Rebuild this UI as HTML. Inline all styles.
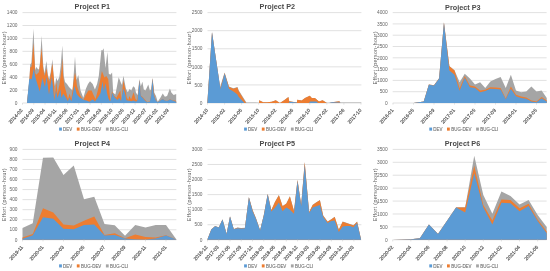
<!DOCTYPE html>
<html lang="en">
<head>
<meta charset="utf-8">
<title>Effort per project</title>
<style>
html,body{margin:0;padding:0;background:#fff;}
body{width:550px;height:271px;overflow:hidden;}
svg{display:block;}
text{font-family:"Liberation Sans",sans-serif;fill:#4a4a4a;}
.ttl{font-size:7.25px;font-weight:bold;}
.tick{font-size:4.9px;stroke:#4a4a4a;stroke-width:0.16;}
.ytick{font-size:4.8px;fill:#666;}
.leg{font-size:4.45px;fill:#6a6a6a;stroke:#6a6a6a;stroke-width:0.08;}
.ytitle{font-size:5.2px;letter-spacing:0.4px;fill:#5e5e5e;}
.grid{stroke:#d4d4d4;stroke-width:0.7;}
</style>
</head>
<body>
<svg width="550" height="271" viewBox="0 0 550 271">
<rect width="550" height="271" fill="#fff"/>
<g>
<text class="ttl" x="92.3" y="9.45" text-anchor="middle">Project P1</text>
<line x1="22.5" x2="176.4" y1="103" y2="103" class="grid"/>
<text class="ytick" x="17.5" y="104.72" text-anchor="end">0</text>
<line x1="22.5" x2="176.4" y1="90.09" y2="90.09" class="grid"/>
<text class="ytick" x="17.5" y="91.81" text-anchor="end">200</text>
<line x1="22.5" x2="176.4" y1="77.17" y2="77.17" class="grid"/>
<text class="ytick" x="17.5" y="78.89" text-anchor="end">400</text>
<line x1="22.5" x2="176.4" y1="64.26" y2="64.26" class="grid"/>
<text class="ytick" x="17.5" y="65.98" text-anchor="end">600</text>
<line x1="22.5" x2="176.4" y1="51.34" y2="51.34" class="grid"/>
<text class="ytick" x="17.5" y="53.06" text-anchor="end">800</text>
<line x1="22.5" x2="176.4" y1="38.43" y2="38.43" class="grid"/>
<text class="ytick" x="17.5" y="40.15" text-anchor="end">1000</text>
<line x1="22.5" x2="176.4" y1="25.51" y2="25.51" class="grid"/>
<text class="ytick" x="17.5" y="27.23" text-anchor="end">1200</text>
<line x1="22.5" x2="176.4" y1="12.6" y2="12.6" class="grid"/>
<text class="ytick" x="17.5" y="14.32" text-anchor="end">1400</text>
<text class="ytitle" text-anchor="middle" transform="translate(6.4,57.8) rotate(-90)">Effort (person-hour)</text>
<polygon fill="#a5a5a5" points="27,103 29.4,80 30.2,64.5 31.4,63 33.5,28.7 35.2,70 36.2,67 37.9,68.9 39,69.6 39.9,63 41.6,35.7 43.3,66 44.4,73.5 46.4,61 47.9,74.8 49.2,79 50.7,72 52.4,59.3 54,80 54.9,86 56.2,77.7 57.6,81 59.3,77 60.7,66 62.3,45.4 63.8,76 65,82 67,84 69,87 71,89 72.5,90.6 73.6,76 75,56.5 76.6,80 78.3,75.1 80.5,90.6 83.3,97.8 86,88.4 88,84 90,81.2 92.7,84 94.9,89.5 97.1,84 98.8,76 101.4,49.9 102.5,50.6 103.6,48.2 105.5,68.1 107.4,52.1 108.8,73.7 110.4,74.8 112.1,72.6 113.2,92.8 115.4,94.5 118.7,77.3 121,82.9 122,85 123.4,75.7 125.9,88.4 127.8,92.3 129.6,89 131.3,90.6 133.2,86.2 134.9,87.8 136,92.8 137.7,95 139.4,79 140.8,86.2 142.4,81.8 143.8,89.5 145.5,90.6 148.3,84.5 149.9,90.6 151,89.5 152.5,77.9 154.3,92.8 156,96.1 157.7,101.7 160.4,97.8 162.7,93.4 164.9,96.7 167.1,96.1 169.9,88.4 171.5,92.8 173.7,95 176.2,94 176.2,103"/>
<polygon fill="#ed7d31" points="27,103 29.4,80 30.2,67.5 31.6,66.5 33.4,43 35.2,73 36.1,74.8 37.9,73.3 39,72 39.9,66 41.5,48 43.2,69 44.6,76 46.5,68.5 48,78 49.3,82 50.7,75 52.3,63.5 54,80 54.7,97.8 56.3,82 57.6,94 59.5,84 61.5,70 62.3,58.2 63.2,76 64.4,85.5 66.6,93.5 68,99.6 69.6,93.5 71.2,99 72.5,90.6 73.8,80 75,72.6 76.1,78.4 77,86 77.8,88.4 80.5,96.1 83.3,100 85.5,95.6 88.3,90.6 91.6,90.6 93.3,94.5 95.5,98.9 98.3,88.4 100.2,80 101.9,71 104.4,77.6 106.3,76 108.2,79 109.6,93 110.3,100.8 112.1,91.5 114.3,96.1 116.5,97.8 119.3,92.3 120.4,90.6 121.3,100.6 123.4,80.6 125.4,89.5 126.7,97.3 128.3,100 129.4,96.1 131.1,99.5 133.6,92.3 135.5,98.9 137.2,100.6 138.3,92 139.4,80 140.8,95.5 142.7,97 144.4,98.9 147.1,102 149.9,101.5 151.2,94.5 152.5,78.2 154.3,95 155.5,99.5 157.7,102.2 160.4,100.4 162.7,98.7 164.9,100.4 167.1,101 169.9,99.3 172.6,100.4 175.4,100.6 176.2,101.2 176.2,103"/>
<polygon fill="#5b9bd5" points="27,103 29.1,80 29.8,78.5 31.6,79.5 33.9,68.1 35,76 37.7,85 39.8,91.5 42.4,78 44.9,87 46.6,77 49,94.5 51.9,76.6 54.3,100.6 56,90.6 57.6,97.8 60.4,89.5 61.5,97.8 63.3,93.5 66,98 67.8,101 69.5,97.5 71.3,101.3 73.6,90 74.5,86 75.2,88.4 76.7,94 79.4,97.3 83.9,100 86.6,100.5 89.4,101.7 92.7,99.3 95,101.5 97.1,98.5 98.8,96 100.6,93 102.5,81.3 103.9,91 105.5,83.3 107,93 108.5,98.5 110,101.2 110.8,100 112.1,92.8 114.9,97.8 117.6,100 119.3,97.8 121,101 123.4,88.4 124.8,92.8 126.5,100.3 129.3,100.8 131.5,101.3 133.1,100.4 135,101 136,101.7 137.7,100 139.4,80.6 140.8,96.1 142.7,97.8 144.9,100.6 147.1,102.2 149.9,101.7 151.2,95 152.5,78.4 153.8,95 155.5,100 157.7,102.2 160.4,100.6 162.7,98.9 164.9,100.6 167.1,101.1 169.9,99.5 172.6,100.6 176.2,101.7 176.2,103"/>
<line x1="22.5" x2="22.5" y1="103" y2="104.6" class="grid"/>
<text class="tick" text-anchor="end" transform="translate(22.8,110.6) rotate(-48)">2014-02</text>
<line x1="33.76" x2="33.76" y1="103" y2="104.6" class="grid"/>
<text class="tick" text-anchor="end" transform="translate(34.06,110.6) rotate(-48)">2014-09</text>
<line x1="45.02" x2="45.02" y1="103" y2="104.6" class="grid"/>
<text class="tick" text-anchor="end" transform="translate(45.32,110.6) rotate(-48)">2015-04</text>
<line x1="56.28" x2="56.28" y1="103" y2="104.6" class="grid"/>
<text class="tick" text-anchor="end" transform="translate(56.58,110.6) rotate(-48)">2015-11</text>
<line x1="67.54" x2="67.54" y1="103" y2="104.6" class="grid"/>
<text class="tick" text-anchor="end" transform="translate(67.84,110.6) rotate(-48)">2016-06</text>
<line x1="78.8" x2="78.8" y1="103" y2="104.6" class="grid"/>
<text class="tick" text-anchor="end" transform="translate(79.1,110.6) rotate(-48)">2017-01</text>
<line x1="90.06" x2="90.06" y1="103" y2="104.6" class="grid"/>
<text class="tick" text-anchor="end" transform="translate(90.36,110.6) rotate(-48)">2017-08</text>
<line x1="101.32" x2="101.32" y1="103" y2="104.6" class="grid"/>
<text class="tick" text-anchor="end" transform="translate(101.62,110.6) rotate(-48)">2018-03</text>
<line x1="112.58" x2="112.58" y1="103" y2="104.6" class="grid"/>
<text class="tick" text-anchor="end" transform="translate(112.88,110.6) rotate(-48)">2018-10</text>
<line x1="123.84" x2="123.84" y1="103" y2="104.6" class="grid"/>
<text class="tick" text-anchor="end" transform="translate(124.14,110.6) rotate(-48)">2019-05</text>
<line x1="135.1" x2="135.1" y1="103" y2="104.6" class="grid"/>
<text class="tick" text-anchor="end" transform="translate(135.4,110.6) rotate(-48)">2019-12</text>
<line x1="146.36" x2="146.36" y1="103" y2="104.6" class="grid"/>
<text class="tick" text-anchor="end" transform="translate(146.66,110.6) rotate(-48)">2020-07</text>
<line x1="157.62" x2="157.62" y1="103" y2="104.6" class="grid"/>
<text class="tick" text-anchor="end" transform="translate(157.92,110.6) rotate(-48)">2021-02</text>
<line x1="168.88" x2="168.88" y1="103" y2="104.6" class="grid"/>
<text class="tick" text-anchor="end" transform="translate(169.18,110.6) rotate(-48)">2021-09</text>
<rect x="59.1" y="127.55" width="2.8" height="3.1" fill="#5b9bd5"/>
<text class="leg" x="63.1" y="130.85">DEV</text>
<rect x="76.8" y="127.55" width="2.8" height="3.1" fill="#ed7d31"/>
<text class="leg" x="81.1" y="130.85">BUG-DEV</text>
<rect x="105.9" y="127.55" width="2.8" height="3.1" fill="#a5a5a5"/>
<text class="leg" x="110.1" y="130.85">BUG-CLI</text>
</g>
<g>
<text class="ttl" x="277.3" y="9.45" text-anchor="middle">Project P2</text>
<line x1="207.5" x2="361.4" y1="103" y2="103" class="grid"/>
<text class="ytick" x="202.5" y="104.72" text-anchor="end">0</text>
<line x1="207.5" x2="361.4" y1="84.92" y2="84.92" class="grid"/>
<text class="ytick" x="202.5" y="86.64" text-anchor="end">500</text>
<line x1="207.5" x2="361.4" y1="66.84" y2="66.84" class="grid"/>
<text class="ytick" x="202.5" y="68.56" text-anchor="end">1000</text>
<line x1="207.5" x2="361.4" y1="48.76" y2="48.76" class="grid"/>
<text class="ytick" x="202.5" y="50.48" text-anchor="end">1500</text>
<line x1="207.5" x2="361.4" y1="30.68" y2="30.68" class="grid"/>
<text class="ytick" x="202.5" y="32.4" text-anchor="end">2000</text>
<line x1="207.5" x2="361.4" y1="12.6" y2="12.6" class="grid"/>
<text class="ytick" x="202.5" y="14.32" text-anchor="end">2500</text>
<text class="ytitle" text-anchor="middle" transform="translate(191.4,57.8) rotate(-90)">Effort (person-hour)</text>
<polygon fill="#a5a5a5" points="207.3,103 212,32.1 216.1,59.7 220,87.6 224.6,72.5 229,86.4 233.4,88.2 237.5,87 238.8,90.5 246.4,102.5 255,102.6 259,102.8 259.2,100.2 263.2,102.2 267.4,102.3 271.7,101.8 275.8,100.2 279.9,102.9 284.5,100 288.4,96.9 289.2,101.2 296.8,102.4 297.3,99.7 301.7,100.5 305,98 309.8,95.8 311.8,98 314.9,98 319,101.4 322.6,100.2 326.8,102.8 329.6,102.8 334,102 339.4,101.3 340.3,102.6 361.3,102.5 361.3,103"/>
<polygon fill="#ed7d31" points="207.4,103 212,32.3 216.1,60 220.3,88.2 224.6,73 229,86.9 233.4,88.7 237.4,87.5 238.6,90.9 246,103 259,103 259.2,100.2 263.2,102.2 267.4,102.3 271.7,101.8 275.8,100.2 279.9,102.9 284.5,100 288.4,96.9 289.2,101.2 296.8,102.4 297.3,99.7 301.7,100.5 305,98 309.8,95.8 311.8,98 314.9,98 319,101.4 322.6,100.2 326.8,103 329.6,103 334,102 339.4,101.3 340.3,103"/>
<polygon fill="#5b9bd5" points="207.4,103 212,32.3 216.1,60 220.5,88.9 224.6,73.5 229,88.7 233.4,91.6 237.2,94.3 238.6,96.8 244.5,103 289,103 289.3,101.8 296.8,102.6 297,103 309,103 310.2,101.4 316.5,101.6 318,103 329,103 332,102.2 340,102.4 340.3,103"/>
<line x1="207.5" x2="207.5" y1="103" y2="104.6" class="grid"/>
<text class="tick" text-anchor="end" transform="translate(208.3,110.6) rotate(-48)">2014-10</text>
<line x1="224.55" x2="224.55" y1="103" y2="104.6" class="grid"/>
<text class="tick" text-anchor="end" transform="translate(225.35,110.6) rotate(-48)">2015-02</text>
<line x1="241.6" x2="241.6" y1="103" y2="104.6" class="grid"/>
<text class="tick" text-anchor="end" transform="translate(242.4,110.6) rotate(-48)">2015-06</text>
<line x1="258.65" x2="258.65" y1="103" y2="104.6" class="grid"/>
<text class="tick" text-anchor="end" transform="translate(259.45,110.6) rotate(-48)">2015-10</text>
<line x1="275.7" x2="275.7" y1="103" y2="104.6" class="grid"/>
<text class="tick" text-anchor="end" transform="translate(276.5,110.6) rotate(-48)">2016-02</text>
<line x1="292.75" x2="292.75" y1="103" y2="104.6" class="grid"/>
<text class="tick" text-anchor="end" transform="translate(293.55,110.6) rotate(-48)">2016-06</text>
<line x1="309.8" x2="309.8" y1="103" y2="104.6" class="grid"/>
<text class="tick" text-anchor="end" transform="translate(310.6,110.6) rotate(-48)">2016-10</text>
<line x1="326.85" x2="326.85" y1="103" y2="104.6" class="grid"/>
<text class="tick" text-anchor="end" transform="translate(327.65,110.6) rotate(-48)">2017-02</text>
<line x1="343.9" x2="343.9" y1="103" y2="104.6" class="grid"/>
<text class="tick" text-anchor="end" transform="translate(344.7,110.6) rotate(-48)">2017-06</text>
<line x1="360.95" x2="360.95" y1="103" y2="104.6" class="grid"/>
<text class="tick" text-anchor="end" transform="translate(361.75,110.6) rotate(-48)">2017-10</text>
<rect x="244.1" y="127.55" width="2.8" height="3.1" fill="#5b9bd5"/>
<text class="leg" x="248.1" y="130.85">DEV</text>
<rect x="261.8" y="127.55" width="2.8" height="3.1" fill="#ed7d31"/>
<text class="leg" x="266.1" y="130.85">BUG-DEV</text>
<rect x="290.9" y="127.55" width="2.8" height="3.1" fill="#a5a5a5"/>
<text class="leg" x="295.1" y="130.85">BUG-CLI</text>
</g>
<g>
<text class="ttl" x="462.8" y="9.65" text-anchor="middle">Project P3</text>
<line x1="392.7" x2="546.6" y1="103" y2="103" class="grid"/>
<text class="ytick" x="387.7" y="104.72" text-anchor="end">0</text>
<line x1="392.7" x2="546.6" y1="91.7" y2="91.7" class="grid"/>
<text class="ytick" x="387.7" y="93.42" text-anchor="end">500</text>
<line x1="392.7" x2="546.6" y1="80.4" y2="80.4" class="grid"/>
<text class="ytick" x="387.7" y="82.12" text-anchor="end">1000</text>
<line x1="392.7" x2="546.6" y1="69.1" y2="69.1" class="grid"/>
<text class="ytick" x="387.7" y="70.82" text-anchor="end">1500</text>
<line x1="392.7" x2="546.6" y1="57.8" y2="57.8" class="grid"/>
<text class="ytick" x="387.7" y="59.52" text-anchor="end">2000</text>
<line x1="392.7" x2="546.6" y1="46.5" y2="46.5" class="grid"/>
<text class="ytick" x="387.7" y="48.22" text-anchor="end">2500</text>
<line x1="392.7" x2="546.6" y1="35.2" y2="35.2" class="grid"/>
<text class="ytick" x="387.7" y="36.92" text-anchor="end">3000</text>
<line x1="392.7" x2="546.6" y1="23.9" y2="23.9" class="grid"/>
<text class="ytick" x="387.7" y="25.62" text-anchor="end">3500</text>
<line x1="392.7" x2="546.6" y1="12.6" y2="12.6" class="grid"/>
<text class="ytick" x="387.7" y="14.32" text-anchor="end">4000</text>
<text class="ytitle" text-anchor="middle" transform="translate(376.6,57.8) rotate(-90)">Effort (person-hour)</text>
<polygon fill="#a5a5a5" points="413.5,103 418.62,102.3 423.75,101.4 428.88,84.5 434,85.2 439.12,78.3 443.95,22.5 449.38,65.9 454.5,70.2 459.62,82.3 464.75,73.8 469.88,78.6 475,84.4 480.12,82.3 485.25,88 490.38,81.4 495.5,78.9 500.62,77 505.75,88 510.88,74.8 516,90.6 521.12,92.2 526.25,91.4 531.38,86.4 536.5,91.4 541.62,90.6 546.75,98 546.75,103"/>
<polygon fill="#ed7d31" points="413.5,103 418.62,102.3 423.75,101.4 428.88,84.5 434,85.2 439.12,78.3 443.95,22.6 449.38,66.2 454.5,70.5 459.62,88.3 464.75,76 469.88,85.4 475,86.4 480.12,90.6 485.25,89.7 490.38,87.2 495.5,87.6 500.62,88 505.75,98.5 510.88,86.4 516,94.7 521.12,96.4 526.25,97.5 531.38,100.5 536.5,101.4 541.62,96.9 546.75,100.5 546.75,103"/>
<polygon fill="#5b9bd5" points="413.5,103 418.62,102.3 423.75,101.4 428.88,84.7 434,85.6 439.12,78.6 443.95,22.9 449.38,70.4 454.5,74.8 459.62,90.8 464.75,77.8 469.88,87.2 475,87.9 480.12,92.3 485.25,90.9 490.38,88.8 495.5,89.1 500.62,89.6 505.75,99.3 510.88,88.8 516,96.3 521.12,98 526.25,98.7 531.38,101.5 536.5,102.2 541.62,98.3 546.75,101.5 546.75,103"/>
<line x1="393" x2="393" y1="103" y2="104.6" class="grid"/>
<text class="tick" text-anchor="end" transform="translate(393.7,110.6) rotate(-48)">2016-01</text>
<line x1="413.5" x2="413.5" y1="103" y2="104.6" class="grid"/>
<text class="tick" text-anchor="end" transform="translate(414.2,110.6) rotate(-48)">2016-05</text>
<line x1="434" x2="434" y1="103" y2="104.6" class="grid"/>
<text class="tick" text-anchor="end" transform="translate(434.7,110.6) rotate(-48)">2016-09</text>
<line x1="454.5" x2="454.5" y1="103" y2="104.6" class="grid"/>
<text class="tick" text-anchor="end" transform="translate(455.2,110.6) rotate(-48)">2017-01</text>
<line x1="475" x2="475" y1="103" y2="104.6" class="grid"/>
<text class="tick" text-anchor="end" transform="translate(475.7,110.6) rotate(-48)">2017-05</text>
<line x1="495.5" x2="495.5" y1="103" y2="104.6" class="grid"/>
<text class="tick" text-anchor="end" transform="translate(496.2,110.6) rotate(-48)">2017-09</text>
<line x1="516" x2="516" y1="103" y2="104.6" class="grid"/>
<text class="tick" text-anchor="end" transform="translate(516.7,110.6) rotate(-48)">2018-01</text>
<line x1="536.5" x2="536.5" y1="103" y2="104.6" class="grid"/>
<text class="tick" text-anchor="end" transform="translate(537.2,110.6) rotate(-48)">2018-05</text>
<rect x="429.3" y="127.55" width="2.8" height="3.1" fill="#5b9bd5"/>
<text class="leg" x="433.3" y="130.85">DEV</text>
<rect x="447" y="127.55" width="2.8" height="3.1" fill="#ed7d31"/>
<text class="leg" x="451.3" y="130.85">BUG-DEV</text>
<rect x="476.1" y="127.55" width="2.8" height="3.1" fill="#a5a5a5"/>
<text class="leg" x="480.3" y="130.85">BUG-CLI</text>
</g>
<g>
<text class="ttl" x="92.3" y="146.4" text-anchor="middle">Project P4</text>
<line x1="22.5" x2="176.4" y1="239.8" y2="239.8" class="grid"/>
<text class="ytick" x="17.5" y="241.52" text-anchor="end">0</text>
<line x1="22.5" x2="176.4" y1="229.76" y2="229.76" class="grid"/>
<text class="ytick" x="17.5" y="231.48" text-anchor="end">100</text>
<line x1="22.5" x2="176.4" y1="219.71" y2="219.71" class="grid"/>
<text class="ytick" x="17.5" y="221.43" text-anchor="end">200</text>
<line x1="22.5" x2="176.4" y1="209.67" y2="209.67" class="grid"/>
<text class="ytick" x="17.5" y="211.39" text-anchor="end">300</text>
<line x1="22.5" x2="176.4" y1="199.62" y2="199.62" class="grid"/>
<text class="ytick" x="17.5" y="201.34" text-anchor="end">400</text>
<line x1="22.5" x2="176.4" y1="189.58" y2="189.58" class="grid"/>
<text class="ytick" x="17.5" y="191.3" text-anchor="end">500</text>
<line x1="22.5" x2="176.4" y1="179.53" y2="179.53" class="grid"/>
<text class="ytick" x="17.5" y="181.25" text-anchor="end">600</text>
<line x1="22.5" x2="176.4" y1="169.49" y2="169.49" class="grid"/>
<text class="ytick" x="17.5" y="171.21" text-anchor="end">700</text>
<line x1="22.5" x2="176.4" y1="159.44" y2="159.44" class="grid"/>
<text class="ytick" x="17.5" y="161.16" text-anchor="end">800</text>
<line x1="22.5" x2="176.4" y1="149.4" y2="149.4" class="grid"/>
<text class="ytick" x="17.5" y="151.12" text-anchor="end">900</text>
<text class="ytitle" text-anchor="middle" transform="translate(6.4,194.6) rotate(-90)">Effort (person-hour)</text>
<polygon fill="#a5a5a5" points="22.5,239.8 22.5,228 32.75,223.2 43,157.8 53.25,157.4 63.5,175.1 73.75,165.5 84,199.2 94.25,196.8 104.5,224.1 114.75,225.2 125,235.7 135.25,224.9 145.5,227.4 155.75,224.9 166,224.9 176.25,239.3 176.25,239.8"/>
<polygon fill="#ed7d31" points="22.5,239.8 22.5,237.6 32.75,234 43,208.3 53.25,212.4 63.5,224.4 73.75,225.6 84,220.8 94.25,216.5 104.5,234.9 114.75,233.2 125,238.2 135.25,234.6 145.5,236.9 155.75,237.4 166,235.2 176.25,239.5 176.25,239.8"/>
<polygon fill="#5b9bd5" points="22.5,239.8 22.5,238.8 32.75,235.2 43,217.2 53.25,218.8 63.5,228.7 73.75,229.2 84,225.1 94.25,224.4 104.5,235.4 114.75,234.9 125,238.5 135.25,239.2 145.5,239.5 155.75,238.5 166,235.4 176.25,239.6 176.25,239.8"/>
<line x1="22.5" x2="22.5" y1="239.8" y2="241.4" class="grid"/>
<text class="tick" text-anchor="end" transform="translate(23.3,247.4) rotate(-48)">2019-11</text>
<line x1="43" x2="43" y1="239.8" y2="241.4" class="grid"/>
<text class="tick" text-anchor="end" transform="translate(43.8,247.4) rotate(-48)">2020-01</text>
<line x1="63.5" x2="63.5" y1="239.8" y2="241.4" class="grid"/>
<text class="tick" text-anchor="end" transform="translate(64.3,247.4) rotate(-48)">2020-03</text>
<line x1="84" x2="84" y1="239.8" y2="241.4" class="grid"/>
<text class="tick" text-anchor="end" transform="translate(84.8,247.4) rotate(-48)">2020-05</text>
<line x1="104.5" x2="104.5" y1="239.8" y2="241.4" class="grid"/>
<text class="tick" text-anchor="end" transform="translate(105.3,247.4) rotate(-48)">2020-07</text>
<line x1="125" x2="125" y1="239.8" y2="241.4" class="grid"/>
<text class="tick" text-anchor="end" transform="translate(125.8,247.4) rotate(-48)">2020-09</text>
<line x1="145.5" x2="145.5" y1="239.8" y2="241.4" class="grid"/>
<text class="tick" text-anchor="end" transform="translate(146.3,247.4) rotate(-48)">2020-11</text>
<line x1="166" x2="166" y1="239.8" y2="241.4" class="grid"/>
<text class="tick" text-anchor="end" transform="translate(166.8,247.4) rotate(-48)">2021-01</text>
<rect x="59.1" y="264.35" width="2.8" height="3.1" fill="#5b9bd5"/>
<text class="leg" x="63.1" y="267.65">DEV</text>
<rect x="76.8" y="264.35" width="2.8" height="3.1" fill="#ed7d31"/>
<text class="leg" x="81.1" y="267.65">BUG-DEV</text>
<rect x="105.9" y="264.35" width="2.8" height="3.1" fill="#a5a5a5"/>
<text class="leg" x="110.1" y="267.65">BUG-CLI</text>
</g>
<g>
<text class="ttl" x="277.3" y="146.4" text-anchor="middle">Project P5</text>
<line x1="207.5" x2="361.4" y1="239.8" y2="239.8" class="grid"/>
<text class="ytick" x="202.5" y="241.52" text-anchor="end">0</text>
<line x1="207.5" x2="361.4" y1="224.73" y2="224.73" class="grid"/>
<text class="ytick" x="202.5" y="226.45" text-anchor="end">500</text>
<line x1="207.5" x2="361.4" y1="209.67" y2="209.67" class="grid"/>
<text class="ytick" x="202.5" y="211.39" text-anchor="end">1000</text>
<line x1="207.5" x2="361.4" y1="194.6" y2="194.6" class="grid"/>
<text class="ytick" x="202.5" y="196.32" text-anchor="end">1500</text>
<line x1="207.5" x2="361.4" y1="179.53" y2="179.53" class="grid"/>
<text class="ytick" x="202.5" y="181.25" text-anchor="end">2000</text>
<line x1="207.5" x2="361.4" y1="164.47" y2="164.47" class="grid"/>
<text class="ytick" x="202.5" y="166.19" text-anchor="end">2500</text>
<line x1="207.5" x2="361.4" y1="149.4" y2="149.4" class="grid"/>
<text class="ytick" x="202.5" y="151.12" text-anchor="end">3000</text>
<text class="ytitle" text-anchor="middle" transform="translate(191.4,194.6) rotate(-90)">Effort (person-hour)</text>
<polygon fill="#a5a5a5" points="207.3,239.8 211.3,229.25 215.1,226.05 218.8,227.25 222.5,219.25 226.6,233.75 230,216.35 233.8,228.95 237.5,227.55 241.2,227.95 244.9,227.75 248.9,197.05 252.7,210.15 256,218.15 260.1,230.15 263.8,215.05 267.7,193.85 271.3,209.95 275,201.75 278.9,195.05 282.6,206.05 286.3,203.55 289.9,196.35 294,210.75 297.5,179.65 301.2,204.75 304.7,161.95 309.1,211.95 312.7,204.75 316.3,202.35 319.9,199.95 323.2,215.55 327.6,221.55 331.2,219.15 334.7,216.75 338.8,229.45 342.7,221.55 346.3,222.75 349.9,223.95 353.5,225.15 357.1,221.55 361.1,239.8"/>
<polygon fill="#ed7d31" points="207.3,239.8 211.3,229.5 215.1,226.3 218.8,227.5 222.5,219.5 226.6,234 230,216.6 233.8,229.2 237.5,227.8 241.2,228.2 244.9,228 248.9,197.3 252.7,210.4 256,218.4 260.1,230.4 263.8,215.3 267.7,194.1 271.3,210.2 275,202 278.9,195.3 282.6,206.3 286.3,203.8 289.9,196.6 294,211 297.5,179.9 301.2,205 304.7,162.2 309.1,212.2 312.7,205 316.3,202.6 319.9,200.2 323.2,215.8 327.6,221.8 331.2,219.4 334.7,217 338.8,229.7 342.7,221.8 346.3,223 349.9,224.2 353.5,225.4 357.1,221.8 361.1,239.8"/>
<polygon fill="#5b9bd5" points="207.3,239.8 211.3,229.5 215.1,226.3 218.8,227.5 222.5,219.5 226.6,234 230,216.6 233.8,229.2 237.5,228.3 241.2,228.6 244.9,228.2 248.9,197.5 252.7,211.4 256,219 260.1,230.6 263.8,215.5 267.7,194.2 271.3,211.5 275,207.8 278.9,202.4 282.6,211.3 286.3,207.4 289.9,209.8 294,213.8 297.5,181 301.2,206 304.7,165 309.1,213 312.7,207.4 316.3,206.2 319.9,205 323.2,217 327.6,223 331.2,221 334.7,220.6 338.8,232 342.7,226.6 346.3,225.9 349.9,226.1 353.5,227.3 357.1,223 361.1,239.8"/>
<line x1="207.5" x2="207.5" y1="239.8" y2="241.4" class="grid"/>
<text class="tick" text-anchor="end" transform="translate(207.8,247.4) rotate(-48)">2016-12</text>
<line x1="218.76" x2="218.76" y1="239.8" y2="241.4" class="grid"/>
<text class="tick" text-anchor="end" transform="translate(219.06,247.4) rotate(-48)">2017-03</text>
<line x1="230.02" x2="230.02" y1="239.8" y2="241.4" class="grid"/>
<text class="tick" text-anchor="end" transform="translate(230.32,247.4) rotate(-48)">2017-06</text>
<line x1="241.28" x2="241.28" y1="239.8" y2="241.4" class="grid"/>
<text class="tick" text-anchor="end" transform="translate(241.58,247.4) rotate(-48)">2017-09</text>
<line x1="252.54" x2="252.54" y1="239.8" y2="241.4" class="grid"/>
<text class="tick" text-anchor="end" transform="translate(252.84,247.4) rotate(-48)">2017-12</text>
<line x1="263.8" x2="263.8" y1="239.8" y2="241.4" class="grid"/>
<text class="tick" text-anchor="end" transform="translate(264.1,247.4) rotate(-48)">2018-03</text>
<line x1="275.06" x2="275.06" y1="239.8" y2="241.4" class="grid"/>
<text class="tick" text-anchor="end" transform="translate(275.36,247.4) rotate(-48)">2018-06</text>
<line x1="286.32" x2="286.32" y1="239.8" y2="241.4" class="grid"/>
<text class="tick" text-anchor="end" transform="translate(286.62,247.4) rotate(-48)">2018-09</text>
<line x1="297.58" x2="297.58" y1="239.8" y2="241.4" class="grid"/>
<text class="tick" text-anchor="end" transform="translate(297.88,247.4) rotate(-48)">2018-12</text>
<line x1="308.84" x2="308.84" y1="239.8" y2="241.4" class="grid"/>
<text class="tick" text-anchor="end" transform="translate(309.14,247.4) rotate(-48)">2019-03</text>
<line x1="320.1" x2="320.1" y1="239.8" y2="241.4" class="grid"/>
<text class="tick" text-anchor="end" transform="translate(320.4,247.4) rotate(-48)">2019-06</text>
<line x1="331.36" x2="331.36" y1="239.8" y2="241.4" class="grid"/>
<text class="tick" text-anchor="end" transform="translate(331.66,247.4) rotate(-48)">2019-09</text>
<line x1="342.62" x2="342.62" y1="239.8" y2="241.4" class="grid"/>
<text class="tick" text-anchor="end" transform="translate(342.92,247.4) rotate(-48)">2019-12</text>
<line x1="353.88" x2="353.88" y1="239.8" y2="241.4" class="grid"/>
<text class="tick" text-anchor="end" transform="translate(354.18,247.4) rotate(-48)">2020-03</text>
<rect x="244.1" y="264.35" width="2.8" height="3.1" fill="#5b9bd5"/>
<text class="leg" x="248.1" y="267.65">DEV</text>
<rect x="261.8" y="264.35" width="2.8" height="3.1" fill="#ed7d31"/>
<text class="leg" x="266.1" y="267.65">BUG-DEV</text>
<rect x="290.9" y="264.35" width="2.8" height="3.1" fill="#a5a5a5"/>
<text class="leg" x="295.1" y="267.65">BUG-CLI</text>
</g>
<g>
<text class="ttl" x="462.5" y="146.4" text-anchor="middle">Project P6</text>
<line x1="392.7" x2="546.6" y1="239.8" y2="239.8" class="grid"/>
<text class="ytick" x="387.7" y="241.52" text-anchor="end">0</text>
<line x1="392.7" x2="546.6" y1="226.89" y2="226.89" class="grid"/>
<text class="ytick" x="387.7" y="228.61" text-anchor="end">500</text>
<line x1="392.7" x2="546.6" y1="213.97" y2="213.97" class="grid"/>
<text class="ytick" x="387.7" y="215.69" text-anchor="end">1000</text>
<line x1="392.7" x2="546.6" y1="201.06" y2="201.06" class="grid"/>
<text class="ytick" x="387.7" y="202.78" text-anchor="end">1500</text>
<line x1="392.7" x2="546.6" y1="188.14" y2="188.14" class="grid"/>
<text class="ytick" x="387.7" y="189.86" text-anchor="end">2000</text>
<line x1="392.7" x2="546.6" y1="175.23" y2="175.23" class="grid"/>
<text class="ytick" x="387.7" y="176.95" text-anchor="end">2500</text>
<line x1="392.7" x2="546.6" y1="162.31" y2="162.31" class="grid"/>
<text class="ytick" x="387.7" y="164.03" text-anchor="end">3000</text>
<line x1="392.7" x2="546.6" y1="149.4" y2="149.4" class="grid"/>
<text class="ytick" x="387.7" y="151.12" text-anchor="end">3500</text>
<text class="ytitle" text-anchor="middle" transform="translate(376.6,194.6) rotate(-90)">Effort (person-hour)</text>
<polygon fill="#a5a5a5" points="392.7,239.8 392.7,239.8 401.76,239.6 410.82,239.2 419.88,238.3 428.94,224.4 438,234 447.06,220.8 456.12,207.3 465.18,207.2 474.24,155.8 483.3,195 492.36,213.8 501.42,191.5 510.48,196.1 519.54,204.5 528.6,200.1 537.66,214.9 546.72,227.1 546.72,239.8"/>
<polygon fill="#ed7d31" points="392.7,239.8 392.7,239.8 401.76,239.6 410.82,239.2 419.88,238.3 428.94,224.4 438,234 447.06,220.8 456.12,207.4 465.18,207.4 474.24,165.8 483.3,205 492.36,220.5 501.42,199.4 510.48,200.1 519.54,208.3 528.6,203.8 537.66,219.4 546.72,231.6 546.72,239.8"/>
<polygon fill="#5b9bd5" points="392.7,239.8 392.7,239.8 401.76,239.6 410.82,239.2 419.88,238.3 428.94,224.4 438,234 447.06,220.8 456.12,207.6 465.18,212.6 474.24,173.3 483.3,207.2 492.36,224.5 501.42,202.7 510.48,203.2 519.54,211.2 528.6,206.1 537.66,221.1 546.72,233.3 546.72,239.8"/>
<line x1="392.7" x2="392.7" y1="239.8" y2="241.4" class="grid"/>
<text class="tick" text-anchor="end" transform="translate(393.5,247.4) rotate(-48)">2020-02</text>
<line x1="410.82" x2="410.82" y1="239.8" y2="241.4" class="grid"/>
<text class="tick" text-anchor="end" transform="translate(411.62,247.4) rotate(-48)">2020-04</text>
<line x1="428.94" x2="428.94" y1="239.8" y2="241.4" class="grid"/>
<text class="tick" text-anchor="end" transform="translate(429.74,247.4) rotate(-48)">2020-06</text>
<line x1="447.06" x2="447.06" y1="239.8" y2="241.4" class="grid"/>
<text class="tick" text-anchor="end" transform="translate(447.86,247.4) rotate(-48)">2020-08</text>
<line x1="465.18" x2="465.18" y1="239.8" y2="241.4" class="grid"/>
<text class="tick" text-anchor="end" transform="translate(465.98,247.4) rotate(-48)">2020-10</text>
<line x1="483.3" x2="483.3" y1="239.8" y2="241.4" class="grid"/>
<text class="tick" text-anchor="end" transform="translate(484.1,247.4) rotate(-48)">2020-12</text>
<line x1="501.42" x2="501.42" y1="239.8" y2="241.4" class="grid"/>
<text class="tick" text-anchor="end" transform="translate(502.22,247.4) rotate(-48)">2021-02</text>
<line x1="519.54" x2="519.54" y1="239.8" y2="241.4" class="grid"/>
<text class="tick" text-anchor="end" transform="translate(520.34,247.4) rotate(-48)">2021-04</text>
<line x1="537.66" x2="537.66" y1="239.8" y2="241.4" class="grid"/>
<text class="tick" text-anchor="end" transform="translate(538.46,247.4) rotate(-48)">2021-06</text>
<rect x="429.3" y="264.35" width="2.8" height="3.1" fill="#5b9bd5"/>
<text class="leg" x="433.3" y="267.65">DEV</text>
<rect x="447" y="264.35" width="2.8" height="3.1" fill="#ed7d31"/>
<text class="leg" x="451.3" y="267.65">BUG-DEV</text>
<rect x="476.1" y="264.35" width="2.8" height="3.1" fill="#a5a5a5"/>
<text class="leg" x="480.3" y="267.65">BUG-CLI</text>
</g>
</svg>
</body>
</html>
